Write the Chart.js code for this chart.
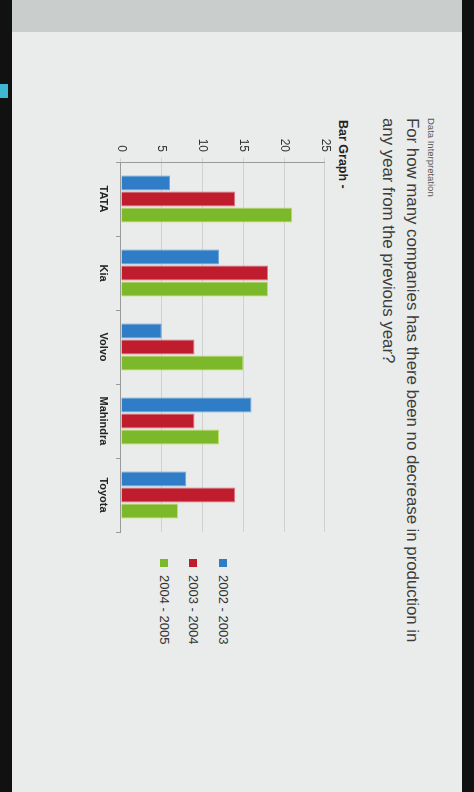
<!DOCTYPE html>
<html>
<head>
<meta charset="utf-8">
<script src="https://cdn.jsdelivr.net/npm/chart.js@4.4.1/dist/chart.umd.min.js"></script>
<style>
  html, body { margin: 0; padding: 0; }
  body { width: 474px; height: 792px; overflow: hidden; position: relative; background: #e9ecea; font-family: "Liberation Sans", Arial, sans-serif; }
  .edge { position: absolute; }
  #page { position: absolute; left: 0; top: 0; width: 792px; height: 474px;
          transform-origin: top left; transform: translateX(474px) rotate(90deg); }
  #page div.txt { position: absolute; white-space: nowrap; }
  #chart { position: absolute; left: 95px; top: 132px; }
  #legend { position: absolute; left: 559px; top: 243px; }
  #legend .item { height: 29.5px; font-size: 13px; color: #333; }
  #legend .box { display: inline-block; width: 8px; height: 8px; margin-right: 8px; vertical-align: 0px; }
</style>
</head>
<body>
<div class="edge" style="left:0;top:0;width:474px;height:32px;background:#c9cdcc"></div>
<div class="edge" style="left:0;top:0;width:12px;height:792px;background:#111"></div>
<div class="edge" style="left:462px;top:0;width:12px;height:792px;background:#111"></div>
<div class="edge" style="left:0;top:84px;width:8px;height:14px;background:#3fb7d2"></div>

<div id="page">
  <div class="txt" style="left:118px;top:37px;font-size:9.5px;color:#555">Data Interpretation</div>
  <div class="txt" style="left:118px;top:50px;font-size:16.9px;letter-spacing:-0.05px;color:#3d3d3d;line-height:24px">For how many companies has there been no decrease in production in<br>any year from the previous year?</div>
  <div class="txt" style="left:120px;top:124px;font-size:12.5px;font-weight:bold;color:#222">Bar Graph -</div>
  <canvas id="chart" width="445" height="252"></canvas>
  <div id="legend"></div>
</div>

<script>
// production per company
const companies = ['TATA', 'Kia', 'Volvo', 'Mahindra', 'Toyota'];
const seriesNames = ['2002 - 2003', '2003 - 2004', '2004 - 2005'];
const y2002_03 = [6, 12, 5, 16, 8];
const y2003_04 = [14, 18, 9, 9, 14];
const y2004_05 = [21, 18, 15, 12, 7];
const valueTicks = [0, 5, 10, 15, 20, 25];

const fills = ['#2f7dc6', '#bf1d2e', '#7bb92b'];
const edges = ['#6fa8dc', '#e07a84', '#c6dc6a'];

const allSeries = [y2002_03, y2003_04, y2004_05];
const datasets = allSeries.map((vals, i) => ({
  label: seriesNames[i],
  data: vals,
  backgroundColor: fills[i],
  borderColor: edges[i],
  borderWidth: 1,
  categoryPercentage: 0.65,
  barPercentage: 0.94
}));

const ctx = document.getElementById('chart').getContext('2d');
new Chart(ctx, {
  type: 'bar',
  data: { labels: companies, datasets: datasets },
  options: {
    responsive: false,
    animation: false,
    layout: { padding: { top: 17, right: 8, left: 0, bottom: 0 } },
    plugins: { legend: { display: false }, tooltip: { enabled: false } },
    scales: {
      x: {
        afterFit: s => { s.height = 31; },
        grid: { offset: true, drawOnChartArea: false, tickLength: 5, color: '#9a9a9a' },
        border: { color: '#9a9a9a' },
        ticks: { color: '#222', padding: 6, font: { family: 'Liberation Sans', size: 11, weight: 'bold' } }
      },
      y: {
        min: 0, max: 25,
        afterFit: s => { s.width = 67; },
        afterBuildTicks: s => { s.ticks = valueTicks.map(v => ({ value: v })); },
        grid: { color: '#cfd2d0', tickLength: 4 },
        border: { color: '#9a9a9a' },
        ticks: { color: '#333', padding: 6, font: { family: 'Liberation Sans', size: 12 } }
      }
    }
  }
});

// legend on the right
const legend = document.getElementById('legend');
seriesNames.forEach((name, i) => {
  const row = document.createElement('div');
  row.className = 'item';
  row.innerHTML = '<span class="box" style="background:' + fills[i] + '"></span>' + name;
  legend.appendChild(row);
});
</script>
</body>
</html>
